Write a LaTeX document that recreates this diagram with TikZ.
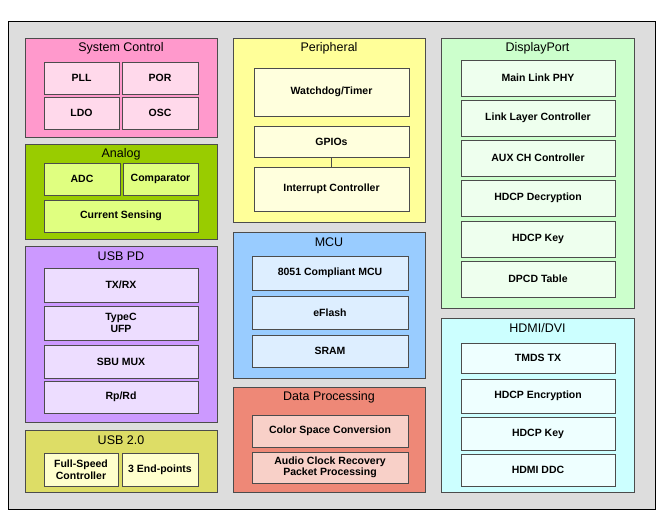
\documentclass[tikz,border=0pt]{standalone}
\usepackage{fontspec}
\setmainfont{Liberation Sans}
\begin{document}
\begin{tikzpicture}[x=1pt,y=-1pt,
 grp/.style={draw=black!70,line width=0.6pt},
 itm/.style={draw=black!70,line width=0.6pt,inner sep=0pt,font=\fontsize{10.5}{11.5}\selectfont\bfseries,align=center},
 ttl/.style={font=\fontsize{12.5}{13}\selectfont}]
\definecolor{bg}{HTML}{DDDDDD}
\definecolor{scO}{HTML}{FF99CC}\definecolor{scI}{HTML}{FFD9EB}
\definecolor{anO}{HTML}{99CC00}\definecolor{anI}{HTML}{E0FF80}
\definecolor{pdO}{HTML}{CC99FF}\definecolor{pdI}{HTML}{EDDDFF}
\definecolor{u2O}{HTML}{DDDD66}\definecolor{u2I}{HTML}{FFFFCC}
\definecolor{peO}{HTML}{FFFF99}\definecolor{peI}{HTML}{FFFFDD}
\definecolor{mcO}{HTML}{99CCFF}\definecolor{mcI}{HTML}{DDEEFF}
\definecolor{dpO}{HTML}{EE8877}\definecolor{dpI}{HTML}{F8D0C8}
\definecolor{dsO}{HTML}{CCFFCC}\definecolor{dsI}{HTML}{EEFFEE}
\definecolor{hdO}{HTML}{CCFFFF}\definecolor{hdI}{HTML}{EEFFFF}
\useasboundingbox (0,0) rectangle (660,516);
\draw[fill=bg,line width=1pt] (8,22) rectangle (655,509);
\newcommand\grpbox[6]{\draw[grp,fill=#5] (#1,#2) rectangle (#3,#4); \node[ttl] at ({(#1+#3)/2},#2+10) {#6};}
\newcommand\itmbox[7]{\node[itm,fill=#6,minimum width={#4-#2},minimum height={#5-#3}] (#1) at ({(#2+#4)/2},{(#3+#5)/2}) {#7};}
% System control
\grpbox{25}{38}{217}{137}{scO}{System Control}
\itmbox{pll}{44}{62}{119}{94}{scI}{PLL}
\itmbox{por}{122}{62}{198}{94}{scI}{POR}
\itmbox{ldo}{44}{97}{119}{129}{scI}{LDO}
\itmbox{osc}{122}{97}{198}{129}{scI}{OSC}
% Analog
\grpbox{25}{144}{217}{239}{anO}{Analog}
\itmbox{adc}{44}{163}{120}{195}{anI}{ADC}
\itmbox{cmp}{123}{163}{198}{195}{anI}{Comparator}
\itmbox{cur}{44}{200}{198}{232}{anI}{Current Sensing}
% USB PD
\grpbox{25}{246}{217}{422}{pdO}{USB PD}
\itmbox{txrx}{44}{268}{198}{302}{pdI}{TX/RX}
\itmbox{typec}{44}{306}{198}{340}{pdI}{TypeC\\UFP}
\itmbox{sbu}{44}{345}{198}{378}{pdI}{SBU MUX}
\itmbox{rprd}{44}{381}{198}{413}{pdI}{Rp/Rd}
% USB 2.0
\grpbox{25}{430}{217}{492}{u2O}{USB 2.0}
\itmbox{fs}{44}{453}{118}{486}{u2I}{Full-Speed\\Controller}
\itmbox{ep}{122}{453}{198}{486}{u2I}{3 End-points}
% Peripheral
\grpbox{233}{38}{425}{222}{peO}{Peripheral}
\itmbox{wd}{254}{68}{409}{116}{peI}{Watchdog/Timer}
\itmbox{gpio}{254}{126}{409}{157}{peI}{GPIOs}
\itmbox{intc}{254}{167}{409}{211}{peI}{Interrupt Controller}
\draw[black!70,line width=0.6pt] (gpio) -- (intc);
% MCU
\grpbox{233}{232}{425}{378}{mcO}{MCU}
\itmbox{mcu}{252}{256}{408}{290}{mcI}{8051 Compliant MCU}
\itmbox{efl}{252}{296}{408}{329}{mcI}{eFlash}
\itmbox{sram}{252}{335}{408}{367}{mcI}{SRAM}
% Data processing
\grpbox{233}{387}{425}{492}{dpO}{Data Processing}
\itmbox{csc}{252}{415}{408}{447}{dpI}{Color Space Conversion}
\itmbox{acr}{252}{452}{408}{483}{dpI}{Audio Clock Recovery\\Packet Processing}
% DisplayPort
\grpbox{441}{38}{634}{308}{dsO}{DisplayPort}
\itmbox{mlp}{461}{60}{615}{96}{dsI}{Main Link PHY}
\itmbox{llc}{461}{100}{615}{136}{dsI}{Link Layer Controller}
\itmbox{aux}{461}{140}{615}{176}{dsI}{AUX CH Controller}
\itmbox{hdd}{461}{180}{615}{216}{dsI}{HDCP Decryption}
\itmbox{hk1}{461}{221}{615}{257}{dsI}{HDCP Key}
\itmbox{dpcd}{461}{261}{615}{297}{dsI}{DPCD Table}
% HDMI
\grpbox{441}{318}{634}{492}{hdO}{HDMI/DVI}
\itmbox{tmds}{461}{343}{615}{373}{hdI}{TMDS TX}
\itmbox{hde}{461}{379}{615}{413}{hdI}{HDCP Encryption}
\itmbox{hk2}{461}{417}{615}{450}{hdI}{HDCP Key}
\itmbox{ddc}{461}{454}{615}{486}{hdI}{HDMI DDC}
\end{tikzpicture}
\end{document}
